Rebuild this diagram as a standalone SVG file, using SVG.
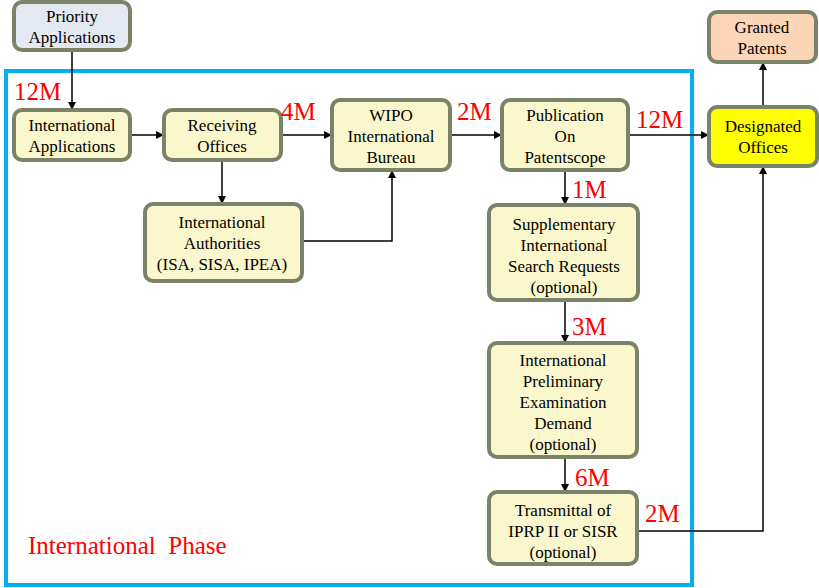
<svg xmlns="http://www.w3.org/2000/svg" width="819" height="588" viewBox="0 0 819 588">
<style>
.n{fill:#fbf7cc;stroke:#7a8268;stroke-width:4}
.t{font-family:'Liberation Serif','Times New Roman','DejaVu Serif',serif;font-size:17px;fill:#000;text-anchor:middle}
.r{font-family:'Liberation Serif','Times New Roman','DejaVu Serif',serif;font-size:25px;fill:#ff0000}
.c{fill:none;stroke:#000;stroke-width:1.5}
</style>
<defs><marker id="a" viewBox="0 0 10 10" refX="10" refY="5" markerWidth="8" markerHeight="8" markerUnits="userSpaceOnUse" orient="auto"><path d="M0,0L10,5L0,10z" fill="#000"/></marker></defs>
<rect x="6" y="71" width="686" height="514" fill="none" stroke="#00b0f0" stroke-width="4"/>
<g id="connectors">
<path class="c" d="M72,50V110" marker-end="url(#a)"/>
<path class="c" d="M130,135H164" marker-end="url(#a)"/>
<path class="c" d="M281,135H332" marker-end="url(#a)"/>
<path class="c" d="M450,135H502" marker-end="url(#a)"/>
<path class="c" d="M628,135H709" marker-end="url(#a)"/>
<path class="c" d="M222,160V204" marker-end="url(#a)"/>
<path class="c" d="M302,241H392V170" marker-end="url(#a)"/>
<path class="c" d="M565,170V205" marker-end="url(#a)"/>
<path class="c" d="M565,300V343" marker-end="url(#a)"/>
<path class="c" d="M565,457V492" marker-end="url(#a)"/>
<path class="c" d="M637,531H763V166" marker-end="url(#a)"/>
<path class="c" d="M763,107V62" marker-end="url(#a)"/>
</g>
<g id="priority"><rect x="14" y="2" width="116" height="48" rx="8" class="n" style="fill:#e4e9f1"/><text class="t" x="72" y="22">Priority</text><text class="t" x="72" y="43">Applications</text></g>
<g id="intl-app"><rect x="14" y="110" width="116" height="50" rx="8" class="n"/><text class="t" x="72" y="131">International</text><text class="t" x="72" y="152">Applications</text></g>
<g id="receiving"><rect x="164" y="110" width="117" height="50" rx="8" class="n"/><text class="t" x="222" y="131">Receiving</text><text class="t" x="222" y="152">Offices</text></g>
<g id="wipo"><rect x="332" y="100" width="118" height="70" rx="8" class="n"/><text class="t" x="391" y="121">WIPO</text><text class="t" x="391" y="142">International</text><text class="t" x="391" y="163">Bureau</text></g>
<g id="publication"><rect x="502" y="100" width="126" height="70" rx="8" class="n"/><text class="t" x="565" y="121">Publication</text><text class="t" x="565" y="142">On</text><text class="t" x="565" y="163">Patentscope</text></g>
<g id="designated"><rect x="709" y="107" width="108" height="59" rx="8" class="n" style="fill:#ffff00"/><text class="t" x="763" y="132">Designated</text><text class="t" x="763" y="153">Offices</text></g>
<g id="granted"><rect x="709" y="12" width="107" height="50" rx="8" class="n" style="fill:#fbd5b5"/><text class="t" x="762" y="33">Granted</text><text class="t" x="762" y="54">Patents</text></g>
<g id="authorities"><rect x="145" y="204" width="157" height="77" rx="8" class="n"/><text class="t" x="222" y="228">International</text><text class="t" x="222" y="249">Authorities</text><text class="t" x="222" y="270">(ISA, SISA, IPEA)</text></g>
<g id="supplementary"><rect x="489" y="205" width="149" height="95" rx="8" class="n"/><text class="t" x="564" y="230">Supplementary</text><text class="t" x="564" y="251">International</text><text class="t" x="564" y="272">Search Requests</text><text class="t" x="564" y="293">(optional)</text></g>
<g id="preliminary"><rect x="489" y="343" width="148" height="114" rx="8" class="n"/><text class="t" x="563" y="366">International</text><text class="t" x="563" y="387">Preliminary</text><text class="t" x="563" y="408">Examination</text><text class="t" x="563" y="429">Demand</text><text class="t" x="563" y="450">(optional)</text></g>
<g id="transmittal"><rect x="489" y="492" width="148" height="72" rx="8" class="n"/><text class="t" x="563" y="516">Transmittal of</text><text class="t" x="563" y="537">IPRP II or SISR</text><text class="t" x="563" y="558">(optional)</text></g>
<g id="labels">
<text class="r" x="14" y="100">12M</text>
<text class="r" x="281" y="120">4M</text>
<text class="r" x="457" y="120">2M</text>
<text class="r" x="636" y="128">12M</text>
<text class="r" x="572" y="198">1M</text>
<text class="r" x="572" y="335">3M</text>
<text class="r" x="575" y="486">6M</text>
<text class="r" x="645" y="522">2M</text>
<text class="r" x="28" y="554" style="white-space:pre">International  Phase</text>
</g>
</svg>
